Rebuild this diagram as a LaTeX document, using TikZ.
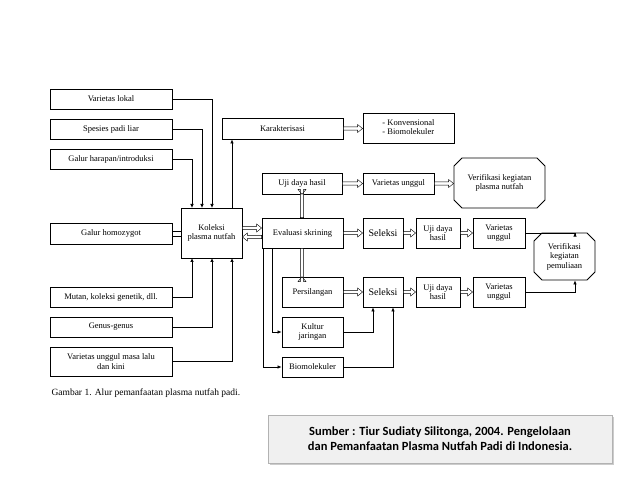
\documentclass[tikz,border=0pt]{standalone}
\usepackage{fontspec}
\setmainfont{Liberation Serif}
\newfontfamily\carl{Carlito}
\usetikzlibrary{calc,shapes.misc,arrows.meta,shadows}
\newcommand\hR[2]{\draw[thin,fill=white] let \p1=#1, \p2=#2 in (\x1,\y1+1.6pt) -- (\x2-5pt,\y1+1.6pt) -- (\x2-5pt,\y1+4pt) -- (\x2,\y1) -- (\x2-5pt,\y1-4pt) -- (\x2-5pt,\y1-1.6pt) -- (\x1,\y1-1.6pt) -- cycle;}
\newcommand\hL[2]{\draw[thin,fill=white] let \p1=#1, \p2=#2 in (\x1,\y1+1.6pt) -- (\x2+5pt,\y1+1.6pt) -- (\x2+5pt,\y1+4pt) -- (\x2,\y1) -- (\x2+5pt,\y1-4pt) -- (\x2+5pt,\y1-1.6pt) -- (\x1,\y1-1.6pt) -- cycle;}
\newcommand\hV[3]{\draw[thin,fill=white] let \p1=#1, \p2=#2 in (\x1+1.6pt,\y1) -- (\x1+1.6pt,\y2#35pt) -- (\x1+4pt,\y2#35pt) -- (\x1,\y2) -- (\x1-4pt,\y2#35pt) -- (\x1-1.6pt,\y2#35pt) -- (\x1-1.6pt,\y1) -- cycle;}
\begin{document}
\begin{tikzpicture}[x=1pt,y=-1pt,font=\fontsize{8.5}{9.5}\selectfont,
 bx/.style={draw,thick,inner sep=0pt,align=center},
 ar/.style={-{Latex[length=4pt,width=3.5pt]},line width=0.7pt},
 ln/.style={line width=0.7pt},
 oct/.style={draw,thick,chamfered rectangle,chamfered rectangle xsep=4pt,chamfered rectangle ysep=4pt,align=center,inner sep=2pt}]
\useasboundingbox (0,0) rectangle (638,478);
\newcommand\B[6]{\node[bx,minimum width=#3-#2,minimum height=#5-#4] (#1) at ({(#2+#3)/2},{(#4+#5)/2}) {#6};}
\B{vl}{50}{172}{89}{109}{Varietas lokal}
\B{sp}{50}{172}{119}{139}{Spesies padi liar}
\B{gh}{50}{172}{149}{169}{Galur harapan/introduksi}
\B{gz}{50}{172}{223}{244}{Galur homozygot}
\B{mu}{50}{172}{287}{307}{Mutan, koleksi genetik, dll.}
\B{ge}{50}{172}{317}{337}{Genus-genus}
\B{vu}{50}{172}{347}{376}{Varietas unggul masa lalu\\dan kini}
\B{ko}{181}{242}{208}{258}{Koleksi\\plasma nutfah}
\B{ka}{222}{343}{118}{139}{Karakterisasi}
\B{kv}{363}{454}{113}{143}{\begin{tabular}{@{}l@{}}- Konvensional\\- Biomolekuler\end{tabular}}
\B{ut}{262}{342}{173}{194}{Uji daya hasil}
\B{vt}{363}{434}{173}{194}{Varietas unggul}
\B{ev}{262}{343}{218}{248}{Evaluasi skrining}
\B{s1}{363}{403}{218}{248}{\fontsize{10}{11}\selectfont Seleksi}
\B{u1}{416}{460}{218}{248}{Uji daya\\hasil}
\B{v1}{473}{525}{218}{248}{Varietas\\unggul}
\B{pe}{282}{343}{277}{307}{Persilangan}
\B{s2}{363}{403}{277}{307}{\fontsize{10}{11}\selectfont Seleksi}
\B{u2}{416}{460}{277}{307}{Uji daya\\hasil}
\B{v2}{473}{525}{277}{307}{Varietas\\unggul}
\B{ku}{282}{343}{317}{347}{Kultur\\jaringan}
\B{bi}{282}{343}{357}{377}{Biomolekuler}
\node[oct,minimum width=91pt,minimum height=50pt] (vp) at (499.5,183) {Verifikasi kegiatan\\plasma nutfah};
\node[oct,minimum width=61pt,minimum height=47pt] (vm) at (564.5,256.5) {Verifikasi\\kegiatan\\pemuliaan};
\node[anchor=west,font=\fontsize{9.5}{11}\selectfont] (cap) at (48,393) {Gambar 1. Alur pemanfaatan plasma nutfah padi.};
\node[draw=gray!60,fill=gray!12,drop shadow={opacity=0.4},minimum width=344pt,minimum height=48pt,align=center,font=\carl\bfseries\fontsize{12.5}{15}\selectfont] (src) at (440,439) {Sumber : Tiur Sudiaty Silitonga, 2004. Pengelolaan\\dan Pemanfaatan Plasma Nutfah Padi di Indonesia.};
% inputs
\draw[ar] (vl.east) -| (212,208);
\draw[ar] (sp.east) -| (202,208);
\draw[ar] (gh.east) -| (192,208);
\draw[ln] (gz.east|-0,231) -- (ko.west|-0,231);
\draw[ln] (gz.east|-0,236) -- (ko.west|-0,236);
\draw[ar] (mu.east) -| (192,258);
\draw[ar] (ge.east) -| (212,258);
\draw[ar] (vu.east) -| (232,258);
\draw[ar] (232,208) -- (ka.south-|232,0);
% hollow arrows
\hR{(ka.east)}{(kv.west)}
\hR{(ut.east)}{(vt.west)}
\hR{(vt.east)}{(vp.west)}
\hR{(ev.east)}{(s1.west)}
\hR{(s1.east)}{(u1.west)}
\hR{(u1.east)}{(v1.west)}
\hR{(pe.east)}{(s2.west)}
\hR{(s2.east)}{(u2.west)}
\hR{(u2.east)}{(v2.west)}
\hL{($(ev.west)+(0,4)$)}{($(ko.east)+(0,4)$)}
\hR{($(ko.east)+(0,-5)$)}{($(ev.west)+(0,-5)$)}
\hV{(ev.north-|302,0)}{(ut.south-|302,0)}{+}
\hV{(ev.south-|302,0)}{(pe.north-|302,0)}{-}
% thin connectors
\draw[ar] (ev.south-|272,0) |- (ku.west);
\draw[ar] (ev.south-|263,0) |- (bi.west);
\draw[ar] (ku.east) -| (s2.south-|373,0);
\draw[ar] (bi.east) -| (s2.south-|393,0);
\draw[ar] (v1.east) -| (vm.north-|575,0);
\draw[ar] (v2.east) -| (vm.south-|575,0);
\end{tikzpicture}
\end{document}
